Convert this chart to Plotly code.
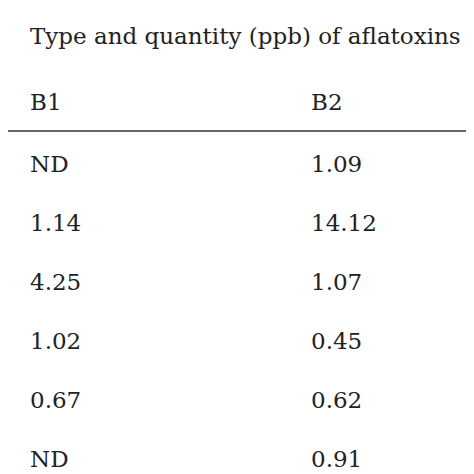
import plotly.graph_objects as go

title_text = "Type and quantity (ppb) of aflatoxins"
columns = ["B1", "B2"]
b1_values = ["ND", "1.14", "4.25", "1.02", "0.67", "ND"]
b2_values = ["1.09", "14.12", "1.07", "0.45", "0.62", "0.91"]

# page body has an 8px offset, so the axes are shifted to keep window pixel coords
OFF = 8
col_x = [14, 295]
title_y = 22
header_y = 88
row_y0 = 150
row_step = 59
serif = "DejaVu Serif"
ink = "#222222"
fsize = 23

fig = go.Figure()

# title row
fig.add_trace(go.Scatter(x=[col_x[0]], y=[title_y], text=[title_text], mode="text",
                         textposition="middle right",
                         textfont=dict(family=serif, size=fsize, color=ink)))

# header row
fig.add_trace(go.Scatter(x=col_x, y=[header_y] * 2, text=columns, mode="text",
                         textposition="middle right",
                         textfont=dict(family=serif, size=fsize, color=ink)))

# body rows
for i, vals in enumerate([b1_values, b2_values]):
    ys = [row_y0 + k * row_step for k in range(len(vals))]
    fig.add_trace(go.Scatter(x=[col_x[i]] * len(vals), y=ys, text=vals, mode="text",
                             textposition="middle right",
                             textfont=dict(family=serif, size=fsize, color=ink)))

fig.add_shape(type="line", x0=-OFF, x1=474, y0=115, y1=115,
              line=dict(color="#333333", width=1.5))

fig.update_layout(
    width=474, height=474,
    margin=dict(l=0, r=0, t=0, b=0),
    paper_bgcolor="white", plot_bgcolor="white",
    showlegend=False,
    xaxis=dict(range=[-OFF, 474 - OFF], visible=False),
    yaxis=dict(range=[474 - OFF, -OFF], visible=False),
)

fig.write_html("out.html")
